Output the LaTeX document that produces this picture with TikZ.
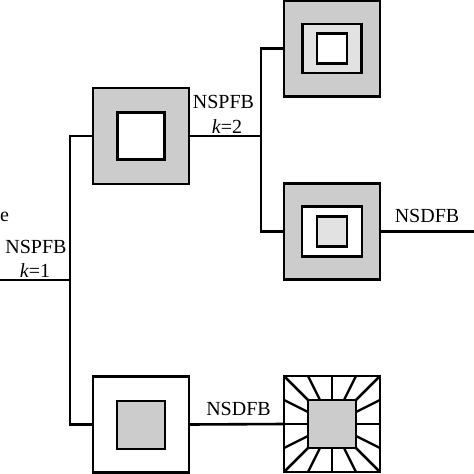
\documentclass[tikz,border=0pt]{standalone}
\usepackage{fontspec}
\setmainfont{Liberation Serif}
\usetikzlibrary{calc}
\definecolor{gA}{RGB}{204,204,204}
\definecolor{gB}{RGB}{226,226,226}
\begin{document}
\begin{tikzpicture}[x=1pt,y=-1pt,line width=2.6pt,
  box/.style={draw=black,rectangle,inner sep=0pt,outer sep=0pt,minimum width=#1,minimum height=#1},
  rbox/.style 2 args={draw=black,rectangle,inner sep=0pt,outer sep=0pt,minimum width=#1,minimum height=#2},
  lab/.style={font=\fontsize{20}{24}\selectfont,inner sep=0pt,anchor=base},
  spoke/.style={line width=2.4pt}]
\useasboundingbox (0,0) rectangle (474,474);
% boxes
\node[box=96,fill=gA] (A) at (141,136) {};
\node[box=47,fill=white] (Ai) at (A) {};
\node[box=96,fill=gA] (B) at (332,48.5) {};
\node[rbox={59}{49},fill=gB] (Bm) at (B) {};
\node[box=30,fill=white] (Bi) at (B) {};
\node[box=96,fill=gA] (C) at (332,231.5) {};
\node[rbox={60}{50},fill=white] (Cm) at (C) {};
\node[box=30,fill=gB] (Ci) at (C) {};
\node[box=96,fill=white] (D) at (141,424.5) {};
\node[box=48,fill=gA] (Di) at (141,425) {};
\node[box=96,fill=white] (E) at (332,424) {};
\foreach \t in {-1,-0.5,0,0.5,1}{
  \draw[spoke] ($(E)+(\t*24,-24)$) -- ($(E)+(\t*48,-48)$);
  \draw[spoke] ($(E)+(\t*24,24)$) -- ($(E)+(\t*48,48)$);
  \draw[spoke] ($(E)+(-24,\t*24)$) -- ($(E)+(-48,\t*48)$);
  \draw[spoke] ($(E)+(24,\t*24)$) -- ($(E)+(48,\t*48)$);
}
\node[box=96] at (E) {};
\node[box=48,fill=gA] (Ei) at (E) {};
% connectors
\coordinate (in) at (0,280);
\coordinate (j1) at (70,280);
\coordinate (j2) at (261,136);
\coordinate (out) at (474,231.5);
\draw (in) -- (j1);
\draw (A.west) -| (j1) |- (D.west);
\draw (A.east) -- (j2);
\draw (B.west) -| (j2) |- (C.west);
\draw (C.east) -- (out);
\draw (D.east) -- (E.west);
% labels
\node[lab] (le) at (4.5,221) {e};
\node[lab] (l1a) at (36,253) {NSPFB};
\node[lab] (l1b) at (35,277) {\textit{k}=1};
\node[lab] (l2a) at (223.5,108) {NSPFB};
\node[lab] (l2b) at (227,133) {\textit{k}=2};
\node[lab] (l3) at (427,222) {NSDFB};
\node[lab] (l4) at (238.5,415) {NSDFB};
\end{tikzpicture}
\end{document}
